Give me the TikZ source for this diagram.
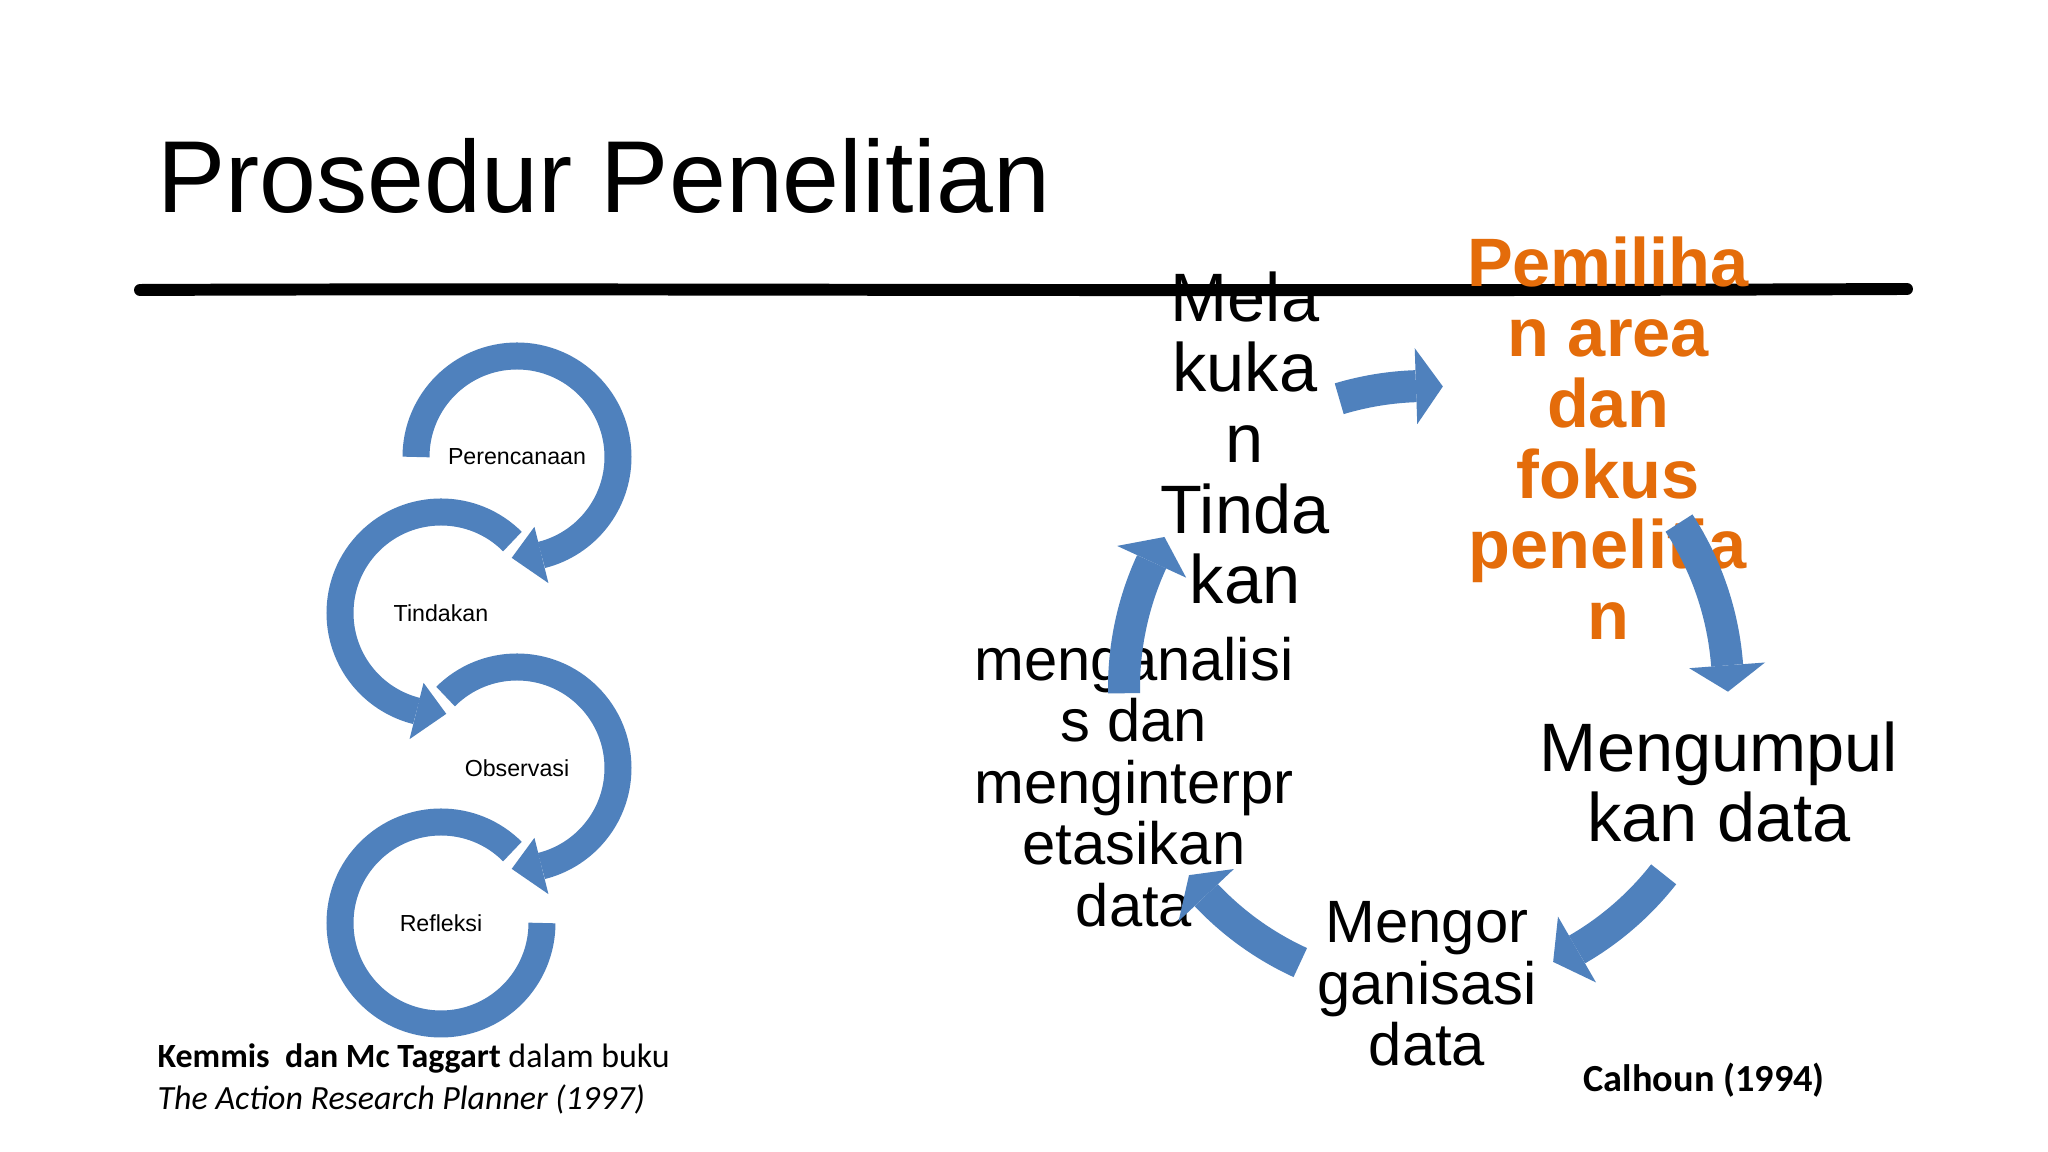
\documentclass[tikz,border=0pt]{standalone}
\usepackage{fontspec}
\setmainfont{Liberation Sans}
\newfontfamily\calibri{Carlito}
\usepackage{xcolor}
\usepackage{tikz}
\usetikzlibrary{calc}

\definecolor{ringblue}{HTML}{4F81BD}
\definecolor{focusorange}{HTML}{E46C0A}

% bent block arrow: centre, radius, start angle, head base angle, tip angle, head half width, shaft width
\newcommand{\bentarrow}[7]{%
  \draw[ringblue, line width=#7] ([shift={(#3:#2)}]#1) arc[start angle=#3, end angle=#4, radius=#2];
  \fill[ringblue] ([shift={(#4:{#2-#6})}]#1) -- ([shift={(#4:{#2+#6})}]#1) -- ([shift={(#5:#2)}]#1) -- cycle;}

\begin{document}
\begin{tikzpicture}[
    ringlabel/.style={inner sep=0pt, font=\fontsize{6.6}{8}\selectfont},
    stepbig/.style={align=center, inner sep=0pt, font=\fontsize{19.5}{20.1}\selectfont},
    stepsmall/.style={align=center, inner sep=0pt, font=\fontsize{17}{17.5}\selectfont},
    sourcetext/.style={anchor=base west, inner sep=0pt, font=\calibri\fontsize{9.65}{11.9}\selectfont}
]
\fill[white] (0,0) rectangle (20.48,11.52);
\useasboundingbox (0,0) rectangle (20.48,11.52);

% title and rule
\node[anchor=base west, inner sep=0pt, font=\fontsize{29.1}{35}\selectfont] (title) at (1.57,9.39) {Prosedur Penelitian};
\draw[line width=3.4pt, line cap=round] (1.40,8.62) .. controls (6,8.64) and (12,8.60) .. (19.07,8.63);

% Kemmis & Mc Taggart spiral
\node[ringlabel] (per) at (5.17,6.95) {Perencanaan};
\node[ringlabel] (tin) at (4.41,5.39) {Tindakan};
\node[ringlabel] (obs) at (5.17,3.84) {Observasi};
\node[ringlabel] (ref) at (4.41,2.29) {Refleksi};

\bentarrow{per.center}{1.01}{180}{-76}{-93}{0.29}{0.27cm}
\bentarrow{tin.center}{1.01}{45}{256}{273}{0.29}{0.27cm}
\bentarrow{obs.center}{1.01}{135}{-76}{-93}{0.29}{0.27cm}
\draw[ringblue, line width=0.27cm] ([shift={(45:1.01)}]ref.center) arc[start angle=45, end angle=360, radius=1.01];

\node[sourcetext] (src) at (1.57,0.84) {\textbf{Kemmis\ \ dan Mc Taggart} dalam buku};
\node[sourcetext] (book) at (1.57,0.42) {\itshape The Action Research Planner (1997)};

% Calhoun cycle
\coordinate (cyc) at (14.26,4.64);
\node[stepbig] (mel) at (12.45,7.14) {Mela\\kuka\\n\\Tinda\\kan};
\node[stepbig, text=focusorange, font=\fontsize{19.5}{20.1}\selectfont\bfseries] (pem) at (16.08,7.14) {Pemiliha\\n area\\dan\\fokus\\penelitia\\n};
\node[stepbig] (kum) at (17.19,3.70) {Mengumpul\\kan data};
\node[stepsmall] (org) at (14.27,1.68) {Mengor\\ganisasi\\data};
\node[stepsmall] (ana) at (11.34,3.70) {menganalisi\\s dan\\menginterpr\\etasikan\\data};

\bentarrow{cyc}{3.02}{181}{155.3}{150}{0.38}{0.32cm}
\bentarrow{cyc}{3.02}{106.7}{91.9}{86.8}{0.38}{0.32cm}
\bentarrow{cyc}{3.02}{33.1}{4.3}{-0.7}{0.38}{0.32cm}
\bentarrow{cyc}{3.02}{-38.1}{-60}{-65.1}{0.38}{0.32cm}
\bentarrow{cyc}{3.02}{-114.6}{-136.7}{-141.7}{0.38}{0.32cm}

\node[anchor=base west, inner sep=0pt, font=\calibri\bfseries\fontsize{10.9}{13}\selectfont] (cal) at (15.83,0.60) {Calhoun (1994)};
\end{tikzpicture}
\end{document}
